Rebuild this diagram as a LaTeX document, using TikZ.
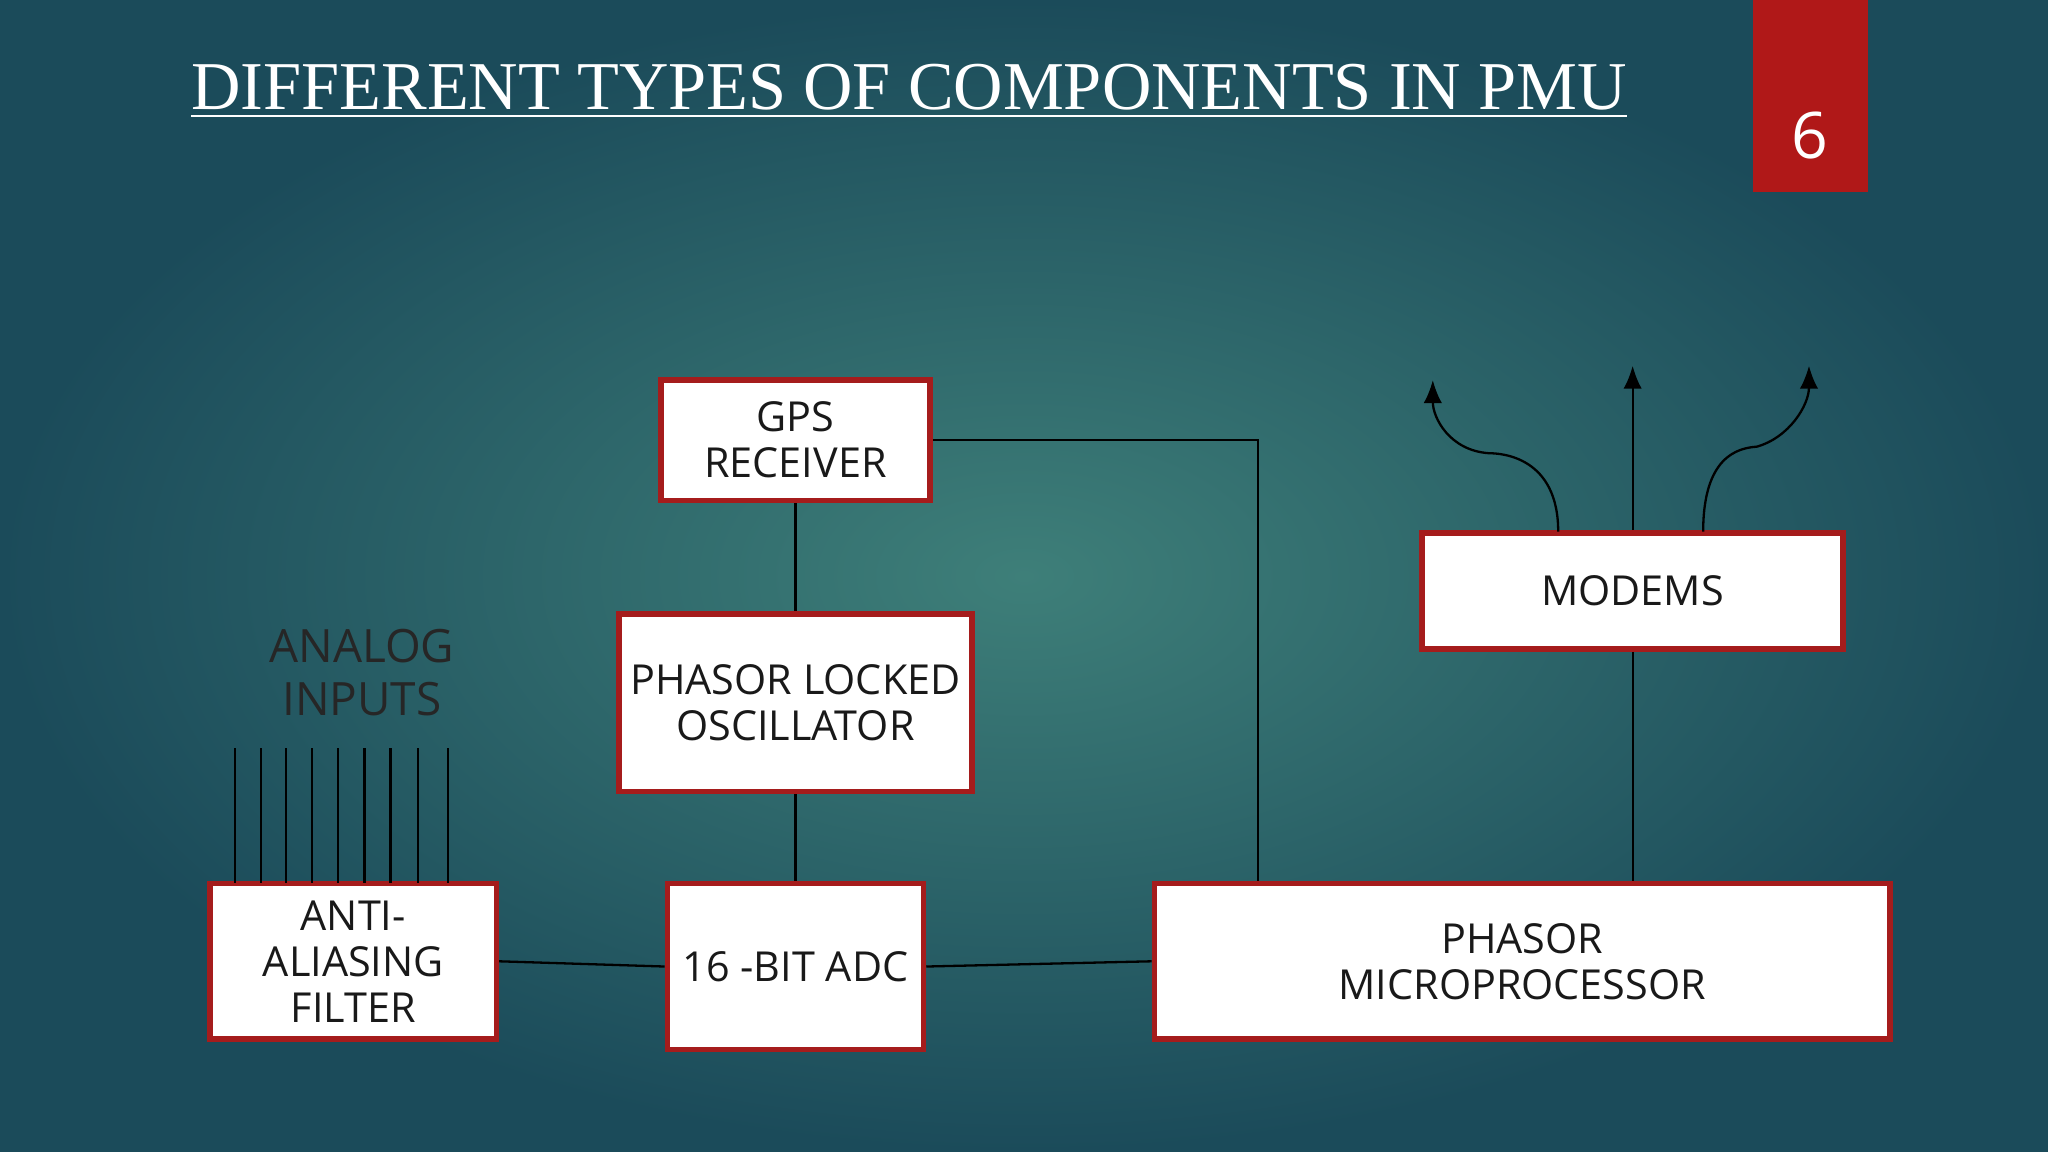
\documentclass[tikz,border=0pt]{standalone}
\usepackage{fontspec}
\setmainfont{Open Sans}
\newfontfamily\titlefont{Liberation Serif}
\usetikzlibrary{arrows.meta}
\definecolor{bgc}{HTML}{3E7F79}
\definecolor{bge}{HTML}{1B4B5A}
\definecolor{boxred}{HTML}{A51C1C}
\definecolor{pagered}{HTML}{B01818}
\tikzset{
  blk/.style={draw=boxred,line width=1.2pt,fill=white,inner sep=0pt,align=center,font=\fontsize{9}{10}\selectfont,text=black!90},
  wire/.style={line width=0.5pt,black},
  arr/.style={wire,-{Latex[length=5pt,width=4pt]}}
}
\begin{document}
\begin{tikzpicture}[x=0.01cm,y=-0.01cm]
\useasboundingbox (0,0) rectangle (1568,882);
\shade[inner color=bgc,outer color=bge] (0,0) rectangle (1568,882);
\fill[pagered] (1342,0) rectangle (1430,147);
\node[text=white,font=\fontsize{14}{16}\selectfont] (pg) at (1386,104) {6};
\node[text=white,font=\titlefont\fontsize{14.9}{16}\selectfont] (title) at (696,70) {\underline{DIFFERENT TYPES OF COMPONENTS IN PMU}};
\node[blk,minimum width=2.06cm,minimum height=0.92cm] (gps) at (609,337) {GPS\\RECEIVER};
\node[blk,minimum width=2.70cm,minimum height=1.36cm] (plo) at (609,538) {PHASOR LOCKED\\OSCILLATOR};
\node[blk,minimum width=1.96cm,minimum height=1.27cm] (adc) at (609,740) {16 -BIT ADC};
\node[blk,minimum width=2.19cm,minimum height=1.19cm] (aaf) at (270.5,736) {ANTI-\\ALIASING\\FILTER};
\node[blk,minimum width=5.63cm,minimum height=1.19cm] (pm) at (1165.5,736) {PHASOR\\MICROPROCESSOR};
\node[blk,minimum width=3.22cm,minimum height=0.89cm] (mod) at (1250,452.5) {MODEMS};
\node[text=black!85,align=center,font=\fontsize{10}{11.5}\selectfont] (ai) at (277,515) {ANALOG\\INPUTS};
\coordinate (c1) at (963,337);
\draw[wire] (gps.east) -- (c1) -- (c1 |- pm.north);
\draw[wire] (gps.south) -- (plo.north);
\draw[wire] (plo.south) -- (adc.north);
\draw[wire] (aaf.east) -- (adc.west);
\draw[wire] (adc.east) -- (pm.west);
\draw[wire] (mod.south) -- (mod.south |- pm.north);
\coordinate (t1) at (1097,291);
\coordinate (t2) at (1250,280);
\coordinate (t3) at (1385,280);
\coordinate (s1) at (1193,407);
\coordinate (s3) at (1304,407);
\draw[arr] (mod.north) -- (t2);
\draw[arr] (s1) .. controls (1193,350) and (1150,347) .. (1140,347) .. controls (1110,345) and (1097,320) .. (t1);
\draw[arr] (s3) .. controls (1304,350) and (1330,343) .. (1345,342) .. controls (1370,335) and (1385,310) .. (t3);
\foreach \xx in {180,200,219,239,259,279,299,320,343}{
  \draw[wire] (\xx,573) -- (\xx,676);
}
\end{tikzpicture}
\end{document}
